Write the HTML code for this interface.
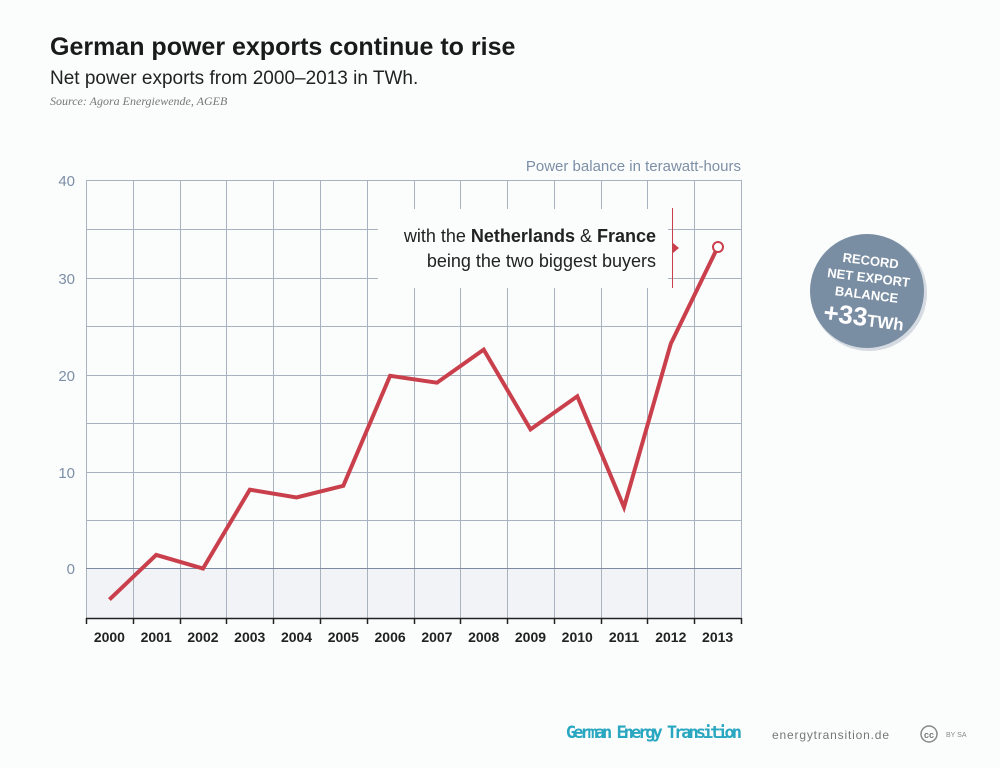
<!DOCTYPE html>
<html><head><meta charset="utf-8"><style>
body{margin:0;background:#fbfcfc;font-family:"Liberation Sans","DejaVu Sans",sans-serif;}
.wrap{position:relative;width:1000px;height:768px;overflow:hidden;background:#fbfcfc}
</style></head><body><div class="wrap">
<svg width="1000" height="768" style="position:absolute;left:0;top:0" font-family="Liberation Sans, DejaVu Sans, sans-serif">
<text x="50" y="55" font-size="25" font-weight="bold" fill="#1a1a1a">German power exports continue to rise</text>
<text x="50" y="84" font-size="19" fill="#222">Net power exports from 2000–2013 in TWh.</text>
<text x="50" y="105" font-size="12" font-style="italic" fill="#777" font-family="Liberation Serif, serif">Source: Agora Energiewende, AGEB</text>
<text x="741" y="171" font-size="15" fill="#7d8fa6" text-anchor="end">Power balance in terawatt-hours</text>
<rect x="86" y="568" width="655" height="50" fill="#f2f3f6"/>
<g stroke="#a9b3c0" stroke-width="1">
<line x1="86" y1="180.5" x2="741" y2="180.5"/><line x1="86" y1="229.5" x2="741" y2="229.5"/>
<line x1="86" y1="278.5" x2="741" y2="278.5"/><line x1="86" y1="326.5" x2="741" y2="326.5"/>
<line x1="86" y1="375.5" x2="741" y2="375.5"/><line x1="86" y1="423.5" x2="741" y2="423.5"/>
<line x1="86" y1="472.5" x2="741" y2="472.5"/><line x1="86" y1="520.5" x2="741" y2="520.5"/>
</g>
<g stroke="#a9b3c0" stroke-width="1" id="v"></g>
<line x1="86" y1="568.5" x2="741" y2="568.5" stroke="#7d8aa0"/>
<rect x="378" y="209" width="290" height="79" fill="#fbfcfc"/>
<line x1="86" y1="618.5" x2="741" y2="618.5" stroke="#222" stroke-width="1.5"/>
<g id="ticks" stroke="#222" stroke-width="1.5"></g>
<g font-size="15" fill="#7d8fa6" text-anchor="end">
<text x="75" y="186">40</text><text x="75" y="284">30</text><text x="75" y="381">20</text><text x="75" y="478">10</text><text x="75" y="574">0</text>
</g>
<g id="yr" font-size="14" font-weight="bold" fill="#222" text-anchor="middle"></g>
<text x="656" y="242" font-size="18" fill="#222" text-anchor="end">with the <tspan font-weight="bold">Netherlands</tspan> &amp; <tspan font-weight="bold">France</tspan></text>
<text x="656" y="267" font-size="18" fill="#222" text-anchor="end">being the two biggest buyers</text>
<line x1="672.5" y1="208" x2="672.5" y2="288" stroke="#c9404c" stroke-width="1"/>
<path d="M673 243 L679 248 L673 253Z" fill="#c9404c"/>
<polyline id="ln" fill="none" stroke="#c9404c" stroke-width="4" stroke-linejoin="miter"/>
<circle cx="718" cy="247" r="5" fill="#fff" stroke="#c9404c" stroke-width="2"/>
<circle cx="869" cy="293" r="58" fill="#d5dbe1"/>
<circle cx="867" cy="291" r="57" fill="#7a8ea3"/>
<g transform="rotate(7 867 291)" fill="#fff" text-anchor="middle" font-weight="bold">
<text x="867" y="265" font-size="13">RECORD</text>
<text x="867" y="282" font-size="13">NET EXPORT</text>
<text x="867" y="299" font-size="13">BALANCE</text>
<text x="867" y="326" font-size="26">+33<tspan font-size="17">TWh</tspan></text>
</g>
<text x="566" y="738" font-size="17" fill="#2aa7c0" font-family="DejaVu Sans Mono, monospace" font-weight="bold" textLength="176">German Energy Transition</text>
<text x="772" y="739" font-size="12" fill="#777" textLength="117">energytransition.de</text>
<circle cx="929" cy="734" r="8" fill="none" stroke="#888" stroke-width="1.5"/>
<text x="929" y="738" font-size="9" fill="#777" font-weight="bold" text-anchor="middle">cc</text>
<text x="946" y="737" font-size="7" fill="#888">BY SA</text>
</svg>
<script>
var ns="http://www.w3.org/2000/svg",s=46.786;
var v=document.getElementById('v'),t=document.getElementById('ticks'),yr=document.getElementById('yr');
for(var i=0;i<=14;i++){var x=Math.round(86+s*i)+0.5;
var l=document.createElementNS(ns,'line');l.setAttribute('x1',x);l.setAttribute('x2',x);l.setAttribute('y1',180);l.setAttribute('y2',618);v.appendChild(l);
var k=document.createElementNS(ns,'line');k.setAttribute('x1',x);k.setAttribute('x2',x);k.setAttribute('y1',618);k.setAttribute('y2',624);t.appendChild(k);
if(i<14){var tx=document.createElementNS(ns,'text');tx.setAttribute('x',86+s*(i+.5));tx.setAttribute('y',642);tx.textContent=2000+i;yr.appendChild(tx);}}
var d=[-3.2,1.4,0,8.1,7.3,8.5,19.8,19.1,22.5,14.3,17.7,6.3,23.1,33],p=[];
for(var i=0;i<14;i++)p.push((86+s*(i+.5)).toFixed(1)+','+(568.5-d[i]*9.73).toFixed(1));
document.getElementById('ln').setAttribute('points',p.join(' '));
</script>
</div></body></html>
